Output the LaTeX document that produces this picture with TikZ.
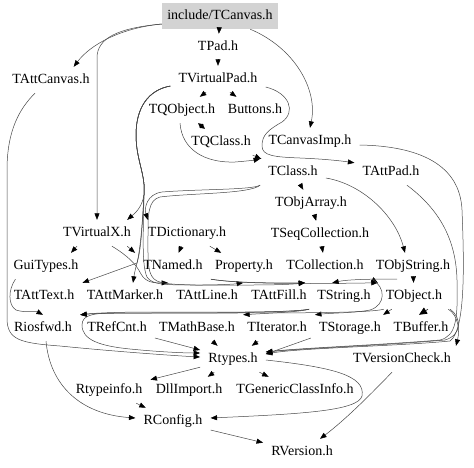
\documentclass[tikz,border=0pt]{standalone}
\usepackage{fontspec}
\setmainfont{Liberation Serif}
\usetikzlibrary{arrows.meta}
\definecolor{rootgray}{RGB}{211,211,211}
\definecolor{edgecol}{RGB}{70,70,70}
\begin{document}
\begin{tikzpicture}[x=1pt,y=-1pt,
  n/.style={inner xsep=8pt, inner ysep=0pt, minimum height=26pt, text height=9.5pt, text depth=3pt, font=\fontsize{14}{16}\selectfont},
  root/.style={n, fill=rootgray, minimum width=116pt, inner xsep=0pt},
  e/.style={draw=edgecol, line width=0.5pt, -{Triangle[length=6.5pt,width=5pt,color=black]}},
  ebig/.style={draw=edgecol, line width=0.8pt, -{Triangle[length=8pt,width=7pt,color=black]}},
  etwo/.style={draw=edgecol, line width=0.5pt, {Triangle[length=5pt,width=5pt,color=black]}-{Triangle[length=5pt,width=5pt,color=black]}}]
\useasboundingbox (0,0) rectangle (474,467);
% nodes
\node[root] (canvas) at (220,16) {include/TCanvas.h};
\node[n] (tpad) at (218,47) {TPad.h};
\node[n] (attcanvas) at (51,80) {TAttCanvas.h};
\node[n] (vpad) at (218,79) {TVirtualPad.h};
\node[n] (tqobject) at (182,110) {TQObject.h};
\node[n] (buttons) at (255,110) {Buttons.h};
\node[n] (tqclass) at (221,142) {TQClass.h};
\node[n] (canvasimp) at (310,141) {TCanvasImp.h};
\node[n] (tclass) at (293,172) {TClass.h};
\node[n] (attpad) at (391,172) {TAttPad.h};
\node[n] (objarray) at (311,203) {TObjArray.h};
\node[n] (virtualx) at (97,233) {TVirtualX.h};
\node[n] (dictionary) at (187,233) {TDictionary.h};
\node[n] (seqcoll) at (320,234) {TSeqCollection.h};
\node[n] (guitypes) at (46,266) {GuiTypes.h};
\node[n] (named) at (173,266) {TNamed.h};
\node[n] (property) at (244,266) {Property.h};
\node[n] (collection) at (325,266) {TCollection.h};
\node[n] (objstring) at (413,266) {TObjString.h};
\node[n] (atttext) at (44,296) {TAttText.h};
\node[n] (attmarker) at (125,296) {TAttMarker.h};
\node[n] (attline) at (207,296) {TAttLine.h};
\node[n] (attfill) at (279,296) {TAttFill.h};
\node[n] (string) at (344,296) {TString.h};
\node[n] (object) at (414,296) {TObject.h};
\node[n] (riosfwd) at (43,328) {Riosfwd.h};
\node[n] (refcnt) at (117,328) {TRefCnt.h};
\node[n] (mathbase) at (197,328) {TMathBase.h};
\node[n] (iterator) at (277,328) {TIterator.h};
\node[n] (storage) at (350,328) {TStorage.h};
\node[n] (buffer) at (421,328) {TBuffer.h};
\node[n] (rtypes) at (233,359) {Rtypes.h};
\node[n] (versioncheck) at (402,359) {TVersionCheck.h};
\node[n] (rtypeinfo) at (109,390) {Rtypeinfo.h};
\node[n] (dllimport) at (189,390) {DllImport.h};
\node[n] (genericci) at (295,390) {TGenericClassInfo.h};
\node[n] (rconfig) at (173,421) {RConfig.h};
\node[n] (rversion) at (302,452) {RVersion.h};
% edges
\draw[e] (canvas) -- (tpad);
\draw[e] ([yshift=-8pt]canvas.west) .. controls (120,28) and (90,45) .. ([xshift=-24pt]attcanvas.north east);
\draw[e] ([yshift=-8pt]canvas.west) .. controls (118,28) and (97,38) .. (97,58) -- (virtualx.north);
\draw[e] ([xshift=-28pt]canvas.south east) .. controls (295,48) and (318,90) .. (canvasimp.north);
\draw[e] (tpad) -- (vpad);
\draw[e] ([xshift=-12pt]vpad.south) -- (tqobject);
\draw[e] ([xshift=12pt]vpad.south) -- (buttons);
\draw[etwo] (tqobject) -- (tqclass);
\draw[e] (tqclass) -- (tclass);
\draw[e] ([xshift=-2pt]tqobject.south) .. controls (182,150) and (205,163) .. (235,162) .. controls (248,161) and (255,160) .. (tclass.north west);
\draw[e] ([yshift=-8pt]vpad.east) .. controls (290,93) and (296,112) .. (282,122) .. controls (268,130) and (262,135) .. (262,146) .. controls (262,156) and (275,157) .. (300,158) .. controls (325,159) and (342,161) .. ([yshift=-4pt]attpad.north west);
% trunk from TVirtualPad
\draw[e] ([yshift=-7pt]vpad.west) .. controls (148,90) and (136,108) .. (136,135) .. controls (136,160) and (146,175) .. (144,195) .. controls (142,208) and (134,214) .. ([xshift=-12pt]virtualx.north east);
\draw[e] ([yshift=-7pt]vpad.west) .. controls (148,90) and (136,108) .. (136,135) .. controls (136,160) and (146,175) .. (144,195) .. controls (142,230) and (140,250) .. (137,263) .. controls (135,270) and (134,276) .. ([xshift=8pt]attmarker.north);
\draw[e] ([yshift=-7pt]vpad.west) .. controls (148,90) and (136,108) .. (136,135) .. controls (136,160) and (146,175) .. (144,195) .. controls (142,230) and (141,250) .. (137,263) -- (atttext.north east);
\draw[e] ([yshift=-7pt]vpad.west) .. controls (148,90) and (136,108) .. (136,135) .. controls (136,160) and (146,175) .. (144,195) .. controls (143,240) and (142,266) .. (147,277) .. controls (152,285) and (165,285) .. (200,285) .. controls (220,285) and (235,284) .. (attfill.north west);
% TVirtualX
\draw[e] ([xshift=15pt]virtualx.south) .. controls (128,256) and (136,264) .. (141,274) .. controls (146,283) and (155,283) .. (attline.north west);
\draw[e] ([xshift=-20pt]virtualx.south) -- ([xshift=25pt]guitypes.north);
\draw[e] ([xshift=-12pt]virtualx.south east) -- (named.north west);
% TClass
\draw[e] (tclass.south west) .. controls (252,190) and (200,189) .. (162,192) .. controls (147,194) and (144,208) .. ([xshift=8pt]dictionary.north west);
\draw[e] (tclass.south west) .. controls (250,194) and (192,193) .. (160,197) .. controls (148,200) and (148,215) .. (148,235) .. controls (148,262) and (147,276) .. (157,281) .. controls (168,286) and (200,285) .. (250,285) .. controls (280,285) and (295,284) .. ([xshift=-4pt]string.north west);
\draw[e] (dictionary) -- (named);
\draw[e] (dictionary) -- (property);
\draw[e] (tclass) -- (objarray);
\draw[e] (objarray) -- (seqcoll);
\draw[e] (seqcoll) -- (collection);
\draw[e] ([yshift=-6pt]tclass.east) .. controls (362,184) and (395,215) .. ([xshift=-8pt]objstring.north);
% row of TNamed etc.
\draw[e] (named.south east) .. controls (240,284) and (300,284) .. (object.north west);
\draw[e] (named.south east) .. controls (235,283) and (275,283) .. ([xshift=-4pt]string.north west);
\draw[e] (collection.south east) -- (object.north west);
\draw[e] ([xshift=-16pt]objstring.south) .. controls (380,279) and (350,279) .. ([xshift=23pt]string.north west);
\draw[e] (objstring) -- (object);
\draw[e] (collection.south east) .. controls (386,287) and (386,305) .. (370,310) .. controls (355,313) and (330,313) .. (iterator.north east);
\draw[e] (string.south west) .. controls (300,312) and (270,313) .. (mathbase.north east);
\draw[e] (string.south west) .. controls (290,313) and (200,312) .. (150,312) .. controls (120,312) and (95,313) .. (riosfwd.north east);
\draw[e] ([xshift=6pt]object.south west) .. controls (370,313) and (300,313) .. (200,313) .. controls (130,313) and (100,313) .. (riosfwd.north east);
\draw[e] (string.south west) .. controls (290,313) and (200,313) .. (120,313) .. controls (95,313) and (82,314) .. (82,325) .. controls (82,340) and (100,346) .. (130,349) .. controls (160,352) and (185,353) .. ([yshift=6pt]rtypes.west);
\draw[e] ([xshift=14pt]object.south west) -- ([xshift=-6pt]storage.north east);
\draw[ebig] ([xshift=14pt]object.south) -- ([xshift=-2pt]buffer.north);
\draw[e] ([xshift=-2pt]object.south east) .. controls (458,315) and (460,330) .. ([xshift=-3pt]versioncheck.north east);
\draw[e] (object.south east) .. controls (462,318) and (462,335) .. (445,340) .. controls (390,345) and (310,348) .. ([yshift=7pt]rtypes.east);
\draw[e] ([xshift=16pt]attpad.south) .. controls (440,210) and (456,240) .. (457,280) .. controls (458,320) and (456,336) .. (440,340) .. controls (380,345) and (300,348) .. ([yshift=7pt]rtypes.east);
\draw[e] ([yshift=-4pt]canvasimp.east) .. controls (420,146) and (460,165) .. (462,210) .. controls (464,260) and (466,330) .. (450,341) .. controls (400,346) and (300,348) .. ([yshift=5pt]rtypes.east);
\draw[e] ([yshift=-10pt]storage.west) -- ([yshift=5pt]rtypes.east);
\draw[e] (iterator) -- (rtypes);
\draw[e] (mathbase) -- (rtypes);
\draw[e] ([yshift=-10pt]refcnt.east) -- ([yshift=9pt]rtypes.west);
\draw[e] ([xshift=-16pt]attcanvas.south) .. controls (20,108) and (7,130) .. (7,170) -- (7,318) .. controls (7,340) and (20,343) .. (60,346) .. controls (120,352) and (180,356) .. ([yshift=2pt]rtypes.west);
\draw[e] ([xshift=10pt]guitypes.south west) .. controls (8,290) and (8,305) .. (16,310) .. controls (25,313) and (36,311) .. (riosfwd.north);
% bottom
\draw[e] (rtypes) -- (rtypeinfo);
\draw[e] (rtypes) -- (dllimport);
\draw[e] (rtypes) -- (genericci);
\draw[e] ([yshift=-1pt]rtypes.east) .. controls (330,367) and (366,375) .. (362,396) .. controls (358,411) and (300,414) .. ([yshift=3pt]rconfig.east);
\draw[e] (rtypeinfo) -- (rconfig);
\draw[e] ([xshift=3pt]riosfwd.south) .. controls (50,385) and (80,414) .. ([yshift=3pt]rconfig.west);
\draw[e] (rconfig) -- (rversion);
\draw[e] ([xshift=-10pt]versioncheck.south) .. controls (370,395) and (345,420) .. ([xshift=18pt]rversion.north);
\end{tikzpicture}
\end{document}
